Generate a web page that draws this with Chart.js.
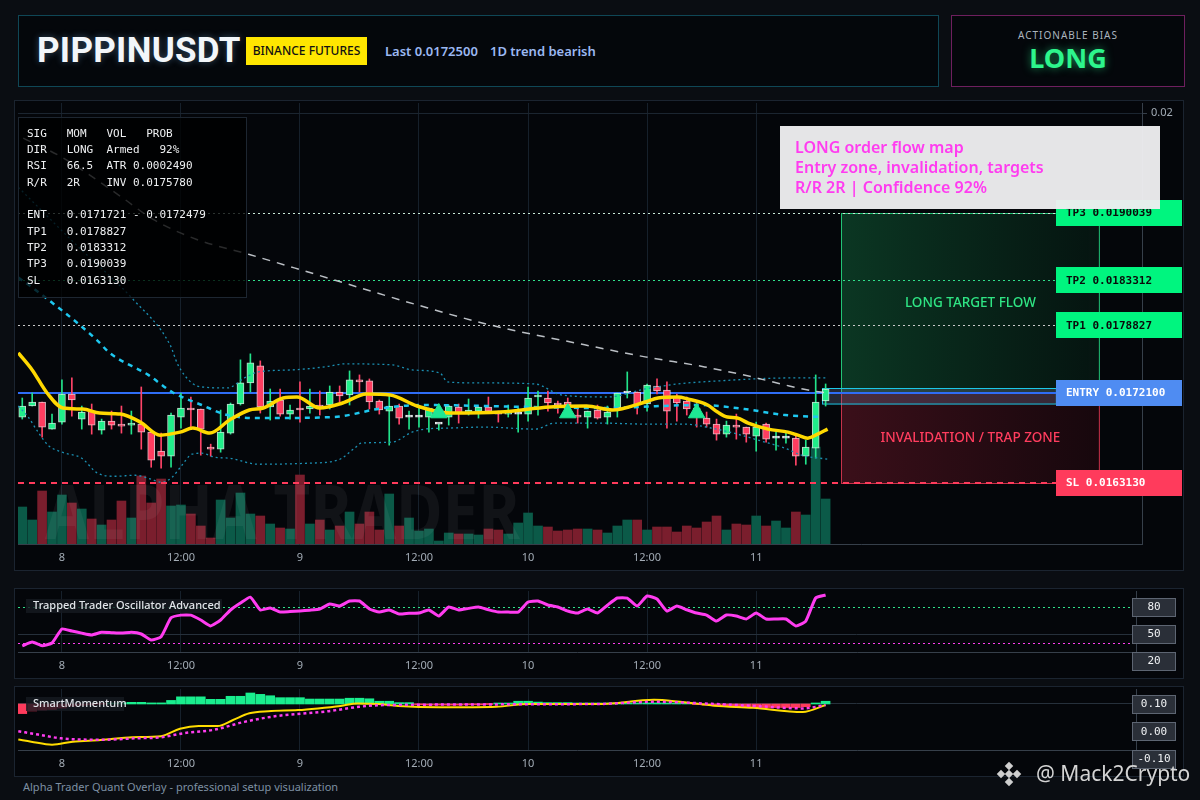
<!DOCTYPE html>
<html>
<head>
<meta charset="utf-8">
<script src="https://cdn.jsdelivr.net/npm/chart.js@4.4.1/dist/chart.umd.min.js"></script>
<style>
html, body { margin: 0; padding: 0; background: #0a0d12; }
#page { position: relative; width: 1200px; height: 800px; overflow: hidden; background: #0a0d12; font-family: "Noto Sans", sans-serif; }
.abs { position: absolute; box-sizing: border-box; }
#head { left: 18px; top: 15px; width: 921px; height: 72px; border: 1px solid #0f4756; background: #04070b; }
#sym { left: 37px; top: 29px; font: bold 35px/44px Roboto, sans-serif; letter-spacing: 0.3px; color: #f2f6fa; text-shadow: 0 0 7px rgba(140,200,255,0.35); white-space: nowrap; }
#badge { left: 246px; top: 37px; width: 121px; height: 28px; background: #ffe600; color: #111; font: 500 12px/28px "Noto Sans", sans-serif; text-align: center; }
.meta { top: 42px; font: 600 13px/18px "Noto Sans", sans-serif; color: #9bb8f2; white-space: nowrap; }
#bias { left: 951px; top: 15px; width: 234px; height: 72px; border: 1px solid #6e1f5e; background: #04070b; text-align: center; }
#biasT { left: 0; top: 12px; width: 100%; font: 10px/14px "Noto Sans", sans-serif; letter-spacing: 1px; color: #aab4be; }
#biasV { left: 0; top: 24px; width: 100%; font: bold 27px/36px "Noto Sans", sans-serif; color: #2df58c; text-shadow: 0 0 9px rgba(40,240,140,0.55); }
.panel { border: 1px solid #1b2430; background: #04060a; }
#foot { left: 23px; top: 779px; font: 11px/16px "Noto Sans", sans-serif; color: #7d90a3; white-space: nowrap; }
#wm { left: 1036px; top: 760px; font: 21px/26px "Noto Sans", sans-serif; color: #d4d4d4; white-space: nowrap; }
canvas { position: absolute; }
</style>
</head>
<body>
<div id="page">
  <div class="abs" id="head"></div>
  <div class="abs" id="sym">PIPPINUSDT</div>
  <div class="abs" id="badge">BINANCE FUTURES</div>
  <div class="abs meta" style="left:385px">Last 0.0172500</div>
  <div class="abs meta" style="left:490px">1D trend bearish</div>
  <div class="abs" id="bias"><div class="abs" id="biasT">ACTIONABLE BIAS</div><div class="abs" id="biasV">LONG</div></div>

  <div class="abs panel" style="left:14px;top:100px;width:1170px;height:471px"></div>
  <div class="abs panel" style="left:14px;top:588px;width:1170px;height:91px"></div>
  <div class="abs panel" style="left:14px;top:686px;width:1170px;height:91px"></div>
  <canvas id="main" width="1168" height="469" style="left:15px;top:101px"></canvas>
  <canvas id="osc" width="1168" height="89" style="left:15px;top:589px"></canvas>
  <canvas id="mom" width="1168" height="89" style="left:15px;top:687px"></canvas>

  <div class="abs" id="foot">Alpha Trader Quant Overlay - professional setup visualization</div>
  <svg class="abs" style="left:996px;top:761px" width="26" height="26" viewBox="0 0 26 26">
    <g fill="#cfcfcf"><rect x="10" y="2" width="6" height="6" transform="rotate(45 13 5)"/><rect x="10" y="18" width="6" height="6" transform="rotate(45 13 21)"/><rect x="2" y="10" width="6" height="6" transform="rotate(45 5 13)"/><rect x="18" y="10" width="6" height="6" transform="rotate(45 21 13)"/><rect x="10" y="10" width="6" height="6" transform="rotate(45 13 13)"/></g>
  </svg>
  <div class="abs" id="wm">@ Mack2Crypto</div>
</div>
<script>
// ---- time axis (candle index) ----
const tickIdx = [4, 16, 28, 40, 51, 63, 74];
const tickText = ['8', '12:00', '9', '12:00', '10', '12:00', '11'];

// ---- hourly candles ----
const open = [0.01697,0.01708,0.01712,0.01685,0.01692,0.01720,0.01695,0.01703,0.01684,0.01693,
  0.01689,0.01689,0.01690,0.01682,0.01663,0.01658,0.01697,0.01706,0.01705,0.01667,
  0.01665,0.01681,0.01710,0.01731,0.01748,0.01707,0.01714,0.01700,0.01705,0.01705,
  0.01709,0.01709,0.01722,0.01719,0.01734,0.01733,0.01713,0.01703,0.01708,0.01697,
  0.01697,0.01697,0.01690,0.01697,0.01707,0.01701,0.01703,0.01707,0.01703,0.01700,
  0.01700,0.01700,0.01717,0.01716,0.01711,0.01712,0.01699,0.01697,0.01704,0.01697,
  0.01706,0.01721,0.01722,0.01710,0.01728,0.01724,0.01717,0.01713,0.01706,0.01696,
  0.01690,0.01680,0.01689,0.01687,0.01678,0.01690,0.01676,0.01676,0.01676,0.01658,
  0.01666,0.01713];
const high = [0.01716,0.01721,0.01712,0.01700,0.01734,0.01736,0.01708,0.01710,0.01695,0.01703,
  0.01708,0.01703,0.01727,0.01682,0.01681,0.01701,0.01721,0.01717,0.01705,0.01670,
  0.01704,0.01711,0.01754,0.01760,0.01753,0.01725,0.01725,0.01709,0.01732,0.01725,
  0.01723,0.01728,0.01728,0.01743,0.01739,0.01735,0.01714,0.01719,0.01710,0.01703,
  0.01706,0.01706,0.01690,0.01709,0.01710,0.01715,0.01707,0.01717,0.01703,0.01709,
  0.01706,0.01727,0.01723,0.01723,0.01713,0.01716,0.01706,0.01703,0.01709,0.01708,
  0.01721,0.01742,0.01722,0.01730,0.01735,0.01732,0.01720,0.01717,0.01712,0.01702,
  0.01695,0.01693,0.01700,0.01687,0.01692,0.01691,0.01682,0.01681,0.01680,0.01674,
  0.01739,0.01730];
const low = [0.01695,0.01708,0.01677,0.01685,0.01690,0.01698,0.01685,0.01680,0.01680,0.01685,
  0.01681,0.01680,0.01665,0.01647,0.01646,0.01647,0.01686,0.01686,0.01659,0.01658,
  0.01662,0.01680,0.01709,0.01722,0.01701,0.01694,0.01698,0.01695,0.01692,0.01701,
  0.01699,0.01705,0.01712,0.01709,0.01722,0.01705,0.01700,0.01669,0.01690,0.01685,
  0.01687,0.01682,0.01684,0.01689,0.01691,0.01699,0.01696,0.01701,0.01692,0.01697,
  0.01682,0.01693,0.01699,0.01703,0.01701,0.01706,0.01691,0.01686,0.01695,0.01690,
  0.01697,0.01716,0.01700,0.01703,0.01720,0.01686,0.01693,0.01699,0.01687,0.01687,
  0.01674,0.01677,0.01675,0.01672,0.01663,0.01672,0.01664,0.01671,0.01649,0.01650,
  0.01656,0.01708];
const close = [0.01708,0.01712,0.01687,0.01691,0.01720,0.01714,0.01702,0.01689,0.01693,0.01689,
  0.01688,0.01691,0.01682,0.01654,0.01658,0.01699,0.01706,0.01704,0.01685,0.01665,
  0.01682,0.01710,0.01731,0.01751,0.01707,0.01713,0.01700,0.01704,0.01704,0.01708,
  0.01707,0.01722,0.01718,0.01734,0.01732,0.01712,0.01704,0.01708,0.01696,0.01697,
  0.01697,0.01706,0.01690,0.01708,0.01701,0.01704,0.01707,0.01703,0.01700,0.01702,
  0.01700,0.01716,0.01719,0.01711,0.01709,0.01709,0.01697,0.01703,0.01696,0.01702,
  0.01721,0.01721,0.01709,0.01729,0.01723,0.01703,0.01711,0.01705,0.01702,0.01690,
  0.01680,0.01689,0.01687,0.01680,0.01687,0.01675,0.01676,0.01676,0.01658,0.01667,
  0.01712,0.01725];
const volume = [3.7,2.4,5.3,3.2,4.9,4.1,3.5,2.5,1.9,2.4, 4.3,2.6,6.8,4.1,6.5,3.8,3.9,3.0,1.8,0.6,
  4.4,2.6,5.1,3.0,2.8,2.0,1.6,1.5,6.9,2.0, 2.4,1.4,1.8,3.2,2.0,3.2,1.4,5.0,1.8,2.6,
  1.3,1.5,0.3,1.1,1.0,1.0,0.9,1.5,1.4,1.0, 2.1,3.1,1.8,1.7,1.3,1.4,1.5,1.5,1.4,1.1,
  1.8,2.4,2.4,1.4,1.7,1.7,1.2,1.8,1.6,2.2, 2.8,1.4,2.0,1.9,2.8,1.8,2.3,1.6,3.2,2.9,
  9.7,4.5];

// ---- overlay lines [candle index, price] ----
const emaLine = [[-0.4,0.01761],[1,0.01744],[2.5,0.01721],[4.1,0.01706],[6.1,0.01705],[7.8,0.01701],[9.9,0.01700],
  [11.9,0.01692],[13.9,0.01679],[15.9,0.01682],[17.2,0.01686],[18.9,0.01681],[20.9,0.01694],[22.9,0.01704],
  [24.3,0.01706],[26.3,0.01716],[27.7,0.01717],[30,0.01706],[32.3,0.01711],[34.7,0.01720],[37.1,0.01719],
  [39.8,0.01708],[43.1,0.01701],[48.2,0.01702],[53.2,0.01707],[56.9,0.01708],[59.5,0.01704],[62.8,0.01712],
  [64.1,0.01716],[66.1,0.01717],[67.1,0.01715],[69.1,0.01709],[70.1,0.01702],[71.1,0.01697],[72.1,0.01696],
  [73.2,0.01691],[75.2,0.01685],[77.2,0.01682],[78.2,0.01679],[79.2,0.01676],[80.2,0.01680],[81.2,0.01685]];
const midBand = [[-0.4,0.01836],[1.3,0.01824],[7.5,0.01774],[8.8,0.01761],[12.7,0.01739],[15.1,0.01722],
  [18.1,0.01709],[20.7,0.01699],[23.9,0.01696],[31.3,0.01697],[36.4,0.01706],[40.1,0.01709],[51.5,0.01707],
  [58.2,0.01706],[68.3,0.01709],[72.8,0.01705],[76.9,0.01699],[80.7,0.01697]];
const upperBand = [[-0.4,0.01926],[5.3,0.01870],[11.2,0.01814],[14.9,0.01769],[15.7,0.01749],[17.1,0.01731],
  [18.1,0.01727],[20.7,0.01726],[22.4,0.01736],[23.8,0.01742],[27.2,0.01744],[30.5,0.01747],[32.5,0.01750],
  [37.3,0.01749],[39.3,0.01744],[42.1,0.01741],[42.9,0.01732],[46.6,0.01731],[51.7,0.01730],[54.4,0.01719],
  [59,0.01717],[62.8,0.01725],[66.1,0.01730],[70.1,0.01733],[77.6,0.01736],[81.2,0.01736]];
const lowerBand = [[-0.4,0.01708],[0.6,0.01697],[1.6,0.01682],[2.6,0.01669],[4,0.01662],[6,0.01656],
  [7.6,0.01641],[9.4,0.01638],[11.4,0.01639],[12.7,0.01636],[14.1,0.01632],[15.1,0.01637],[16.1,0.01649],
  [17.1,0.01660],[18.1,0.01661],[19.4,0.01657],[20.9,0.01656],[23.8,0.01650],[28.8,0.01651],[31.8,0.01654],
  [33.5,0.01666],[34.2,0.01671],[37.3,0.01672],[39.3,0.01682],[40.6,0.01685],[42.9,0.01686],[46.6,0.01687],
  [51.7,0.01685],[53.7,0.01691],[58.4,0.01691],[62.8,0.01690],[66.8,0.01690],[69.5,0.01686],[72.5,0.01679],
  [74.2,0.01674],[76.9,0.01666],[78.6,0.01659],[81.2,0.01655]];
const trendCurve = [[0.1,0.01975],[3.8,0.01957],[9.9,0.01917],[13.2,0.01894],[17.6,0.01874],[22.9,0.01859],
  [29,0.01841],[40.1,0.01808],[47.1,0.01789],[56.7,0.01769],[62.8,0.01757],[68.8,0.01747],[73.6,0.01737],
  [76.9,0.01729],[79.7,0.01723],[81.2,0.01721]];
const signalIdx = [42, 55, 68];
const signalPrice = [0.01701, 0.01701, 0.01701];

// ---- trade plan ----
const entry = 0.0172100, tp1 = 0.0178827, tp2 = 0.0183312, tp3 = 0.0190039, sl = 0.0163130;
const entryZone = [0.01710, 0.017255];
const infoRows = [
  'SIG   MOM   VOL   PROB',
  'DIR   LONG  Armed   92%',
  'RSI   66.5  ATR 0.0002490',
  'R/R   2R    INV 0.0175780',
  '',
  'ENT   0.0171721 - 0.0172479',
  'TP1   0.0178827',
  'TP2   0.0183312',
  'TP3   0.0190039',
  'SL    0.0163130'
];
const calloutRows = ['LONG order flow map', 'Entry zone, invalidation, targets', 'R/R 2R | Confidence 92%'];

// ---- oscillator panels ----
const oscValues = [36.7,41,37,40,55.6,53.3,51,49,52,51.5, 51,52,50,43.3,47,68,71,71,65.6,59,
  65.6,76.7,84.4,91,76.7,79,74.4,75,75.6,76.5, 77.8,83.3,81.1,86.7,86.7,77.8,74.4,76.7,72.2,73,
  73.3,76.7,70,80,76.7,78.5,80,77,74.4,74.4, 74.4,85.6,86.7,82.2,80,75.6,73.3,77.8,73.3,82,
  90,90,81.1,92.2,88.9,75.6,81.1,77,73.3,71.1, 64.4,71.1,70,66.7,73.3,66.7,66.7,66.7,58.9,64.4,
  90,93.3];
const oscLevels = [80, 40];
const oscLabels = [80, 50, 20];
const momHist = [-0.035,-0.025,-0.022,-0.02,-0.015,-0.008,-0.005,-0.003,-0.001,0.001,
  0.004,0.006,0.006,0.004,0.004,0.013,0.026,0.026,0.026,0.017, 0.017,0.028,0.028,0.04,0.035,0.03,0.023,0.023,0.023,0.018,
  0.018,0.018,0.018,0.021,0.021,0.019,0.01,0.01,0.005,0.005, -0.003,-0.004,-0.004,-0.004,-0.004,-0.003,-0.003,-0.002,0.002,0.002,
  0.01,0.01,0.007,0.005,0.005,0.005,0.002,0.002,0.002,0.002, 0.003,0.003,0.003,0.004,0.004,0.003,0.003,0.002,-0.002,-0.004,
  -0.007,-0.007,-0.01,-0.013,-0.013,-0.013,-0.013,-0.013,-0.013,-0.01, 0.002,0.01];
const momFast = [[-0.4,-0.029],[0.9,-0.037],[3,-0.048],[5.1,-0.037],[7.9,-0.031],[11.1,-0.021],[14,-0.017],
  [15.9,0.010],[17.8,0.020],[19.7,0.020],[21.2,0.041],[22.9,0.066],[24.8,0.074],[27.8,0.078],[29.8,0.084],
  [32.1,0.093],[33.8,0.102],[35.9,0.100],[37.9,0.093],[42.1,0.088],[47.8,0.090],[51,0.100],[58.2,0.100],
  [63.7,0.115],[66.3,0.108],[69.8,0.094],[73.7,0.086],[78.7,0.071],[81,0.096]];
const momSlow = [[-0.4,0.001],[1.6,-0.011],[3.9,-0.025],[8.1,-0.030],[11.3,-0.025],[14,-0.021],[16.3,-0.006],
  [19.3,0.006],[22.4,0.035],[25.6,0.056],[28.6,0.066],[30.9,0.074],[34,0.090],[36.4,0.096],[58,0.100],
  [63.7,0.108],[69.8,0.100],[73.7,0.093],[78.7,0.084],[81,0.096]];
const momBase = 0.10;
const momLabels = [0.10, 0.00, -0.10];

// ---- layout constants ----
const X_MIN = -0.43, X_MAX_MAIN = 112.9, X_MAX_SUB = 112.3;
const ZONE_FROM = 82.6, ZONE_TO = 108.6;
const UP = '#20ee8a', DN = '#ff3d60';
const FONT = '"Noto Sans", sans-serif', MONO = '"DejaVu Sans Mono", monospace';

Chart.defaults.animation = false;
Chart.defaults.font.family = FONT;
Chart.defaults.plugins.legend.display = false;
Chart.defaults.plugins.tooltip.enabled = false;

function xAxis(max) {
  return {
    type: 'linear', min: X_MIN, max: max, offset: false,
    afterBuildTicks: s => { s.ticks = tickIdx.map(v => ({ value: v })); },
    afterFit: s => { s.height = 26; s.paddingLeft = 0; s.paddingRight = 0; },
    grid: { color: '#16202b', drawTicks: false, offset: false },
    border: { color: '#363f4a' },
    ticks: { autoSkip: false, maxRotation: 0, padding: 7, color: '#a3acb6', font: { size: 11 },
      callback: (v, k) => tickText[k] }
  };
}
const pts = arr => arr.map(p => ({ x: p[0], y: p[1] }));
function line(data, color, width, dash, order) {
  return { type: 'line', data: pts(data), borderColor: color, borderWidth: width, borderDash: dash,
    pointRadius: 0, cubicInterpolationMode: 'monotone', fill: false, order: order };
}

// ---- main price chart ----
const mainOverlay = {
  id: 'mainOverlay',
  beforeDatasetsDraw(chart) {
    const { ctx, chartArea: a, scales: { x, y } } = chart;
    const x0 = x.getPixelForValue(ZONE_FROM), x1 = x.getPixelForValue(ZONE_TO);
    const yT = y.getPixelForValue(tp3), yE = y.getPixelForValue(entry), yS = y.getPixelForValue(sl);
    const labelLeft = a.right - 86;
    ctx.save();
    let g = ctx.createLinearGradient(x0, 0, x1, 0);
    g.addColorStop(0, 'rgba(18,96,56,0.55)'); g.addColorStop(1, 'rgba(8,36,24,0.5)');
    ctx.fillStyle = g; ctx.fillRect(x0, yT, x1 - x0, yE - yT);
    g = ctx.createLinearGradient(x0, 0, x1, 0);
    g.addColorStop(0, 'rgba(96,22,36,0.6)'); g.addColorStop(1, 'rgba(40,10,16,0.55)');
    ctx.fillStyle = g; ctx.fillRect(x0, yE, x1 - x0, yS - yE);
    ctx.lineWidth = 1;
    ctx.strokeStyle = '#22c476'; ctx.strokeRect(Math.round(x0) + 0.5, Math.round(yT) + 0.5, x1 - x0, yE - yT);
    ctx.strokeStyle = '#c8324a'; ctx.strokeRect(Math.round(x0) + 0.5, Math.round(yE) + 0.5, x1 - x0, yS - yE);
    ctx.font = '500 13.5px ' + FONT; ctx.textAlign = 'center'; ctx.textBaseline = 'middle';
    ctx.fillStyle = '#2fe584'; ctx.fillText('LONG TARGET FLOW', (x0 + x1) / 2, (yT + yE) / 2);
    ctx.fillStyle = '#ff3d5e'; ctx.fillText('INVALIDATION / TRAP ZONE', (x0 + x1) / 2, (yE + yS) / 2);
    // entry zone
    const ez0 = x.getPixelForValue(open.length - 1.35);
    const ezT = y.getPixelForValue(entryZone[1]), ezB = y.getPixelForValue(entryZone[0]);
    ctx.fillStyle = 'rgba(120,125,160,0.28)'; ctx.fillRect(ez0, ezT, labelLeft - ez0, ezB - ezT);
    ctx.strokeStyle = '#1cc8e8'; ctx.strokeRect(Math.round(ez0) + 0.5, Math.round(ezT) + 0.5, labelLeft - ez0, ezB - ezT);
    // target levels
    const dotted = (p, color) => {
      const yy = Math.round(y.getPixelForValue(p)) + 0.5;
      ctx.strokeStyle = color; ctx.lineWidth = 1; ctx.setLineDash([2, 3]);
      ctx.beginPath(); ctx.moveTo(a.left, yy); ctx.lineTo(labelLeft, yy); ctx.stroke();
    };
    dotted(tp3, '#c9e8d8'); dotted(tp2, '#2fe08a'); dotted(tp1, '#c9c9c9');
    ctx.setLineDash([]);
    ctx.strokeStyle = '#2f6df6'; ctx.lineWidth = 2;
    ctx.beginPath(); ctx.moveTo(a.left, yE); ctx.lineTo(labelLeft, yE); ctx.stroke();
    ctx.restore();
  },
  afterDatasetsDraw(chart) {
    const { ctx, chartArea: a, scales: { y } } = chart;
    const labelLeft = a.right - 86;
    ctx.save();
    // stop line
    const yS = y.getPixelForValue(sl);
    ctx.strokeStyle = '#ff3b5c'; ctx.lineWidth = 2; ctx.setLineDash([6, 5]);
    ctx.beginPath(); ctx.moveTo(a.left, yS); ctx.lineTo(labelLeft, yS); ctx.stroke();
    ctx.setLineDash([]);
    // watermark
    ctx.font = 'bold 66px ' + FONT;
    const w = ctx.measureText('ALPHA TRADER').width;
    ctx.translate(a.left + 27, a.bottom - 5);
    ctx.scale(475 / w, 1.15);
    ctx.fillStyle = 'rgba(255,255,255,0.055)'; ctx.textAlign = 'left'; ctx.textBaseline = 'alphabetic';
    ctx.fillText('ALPHA TRADER', 0, 0);
    ctx.setTransform(1, 0, 0, 1, 0, 0);
    // price labels
    const tag = (p, text, bg, fg) => {
      const yy = y.getPixelForValue(p);
      ctx.fillStyle = bg; ctx.fillRect(labelLeft, Math.round(yy - 13), 126, 26);
      ctx.fillStyle = fg; ctx.font = 'bold 11px ' + MONO; ctx.textAlign = 'left'; ctx.textBaseline = 'middle';
      ctx.fillText(text, labelLeft + 10, yy + 0.5);
    };
    tag(tp3, 'TP3 ' + tp3.toFixed(7), '#00f57f', '#0a0a0a');
    tag(tp2, 'TP2 ' + tp2.toFixed(7), '#00f57f', '#0a0a0a');
    tag(tp1, 'TP1 ' + tp1.toFixed(7), '#00f57f', '#0a0a0a');
    tag(entry, 'ENTRY ' + entry.toFixed(7), '#4f8cf2', '#ffffff');
    tag(sl, 'SL ' + sl.toFixed(7), '#ff3b5c', '#ffffff');
    // info panel
    const px = a.left, py = a.top + 14;
    ctx.fillStyle = 'rgba(0,0,0,0.78)'; ctx.fillRect(px, py, 228, 180);
    ctx.strokeStyle = '#1d2631'; ctx.lineWidth = 1; ctx.strokeRect(px + 0.5, py + 0.5, 228, 180);
    ctx.fillStyle = '#eef0f2'; ctx.font = '11px ' + MONO; ctx.textBaseline = 'middle';
    infoRows.forEach((r, k) => ctx.fillText(r, px + 9, py + 17 + k * 16.3));
    // callout
    const cx = a.left + 762, cy = a.top + 23;
    ctx.fillStyle = 'rgba(238,238,240,0.96)'; ctx.fillRect(cx, cy, 380, 83);
    ctx.fillStyle = '#ff3cf0'; ctx.font = '600 16px ' + FONT;
    calloutRows.forEach((r, k) => ctx.fillText(r, cx + 15, cy + 22 + k * 20.3));
    ctx.restore();
  }
};

new Chart(document.getElementById('main'), {
  type: 'line',
  data: {
    datasets: [
      { type: 'bar', yAxisID: 'vol', grouped: false, order: 10, barThickness: 9,
        data: volume.map((v, i) => ({ x: i, y: v })),
        backgroundColor: volume.map((v, i) => close[i] >= open[i] ? '#0b5a48' : '#7a1e2d') },
      { type: 'bar', grouped: false, order: 8, barThickness: 1,
        data: low.map((l, i) => ({ x: i, y: [l, high[i]] })),
        backgroundColor: open.map((o, i) => close[i] >= o ? '#22e38a' : '#ff4468') },
      { type: 'bar', grouped: false, order: 7, barThickness: 7, minBarLength: 2, borderWidth: 1, borderSkipped: false,
        data: open.map((o, i) => ({ x: i, y: [o, close[i]] })),
        backgroundColor: open.map((o, i) => close[i] > o ? UP : close[i] < o ? DN : '#e8ecef'),
        borderColor: open.map((o, i) => close[i] > o ? 'rgba(225,255,238,0.85)' : close[i] < o ? 'rgba(255,220,228,0.85)' : '#e8ecef') },
      line(lowerBand, '#1b8fb2', 1.3, [2, 3], 6),
      line(upperBand, '#1b8fb2', 1.3, [2, 3], 6),
      line(midBand, '#1ec8f0', 2.5, [5, 5], 5),
      line(trendCurve, 'rgba(220,224,230,0.85)', 1.5, [8, 7], 4),
      line(emaLine, '#ffd800', 3.5, [], 3),
      { type: 'line', showLine: false, order: 1, pointStyle: 'triangle', pointRadius: 9.5,
        pointBackgroundColor: '#1ee894', pointBorderColor: '#1ee894',
        data: signalIdx.map((v, k) => ({ x: v, y: signalPrice[k] })) }
    ]
  },
  options: {
    responsive: false,
    layout: { autoPadding: false, padding: { left: 3, top: 2, right: 0, bottom: 0 } },
    scales: {
      x: xAxis(X_MAX_MAIN),
      y: { position: 'right', min: 0.015705, max: 0.0201,
        afterBuildTicks: s => { s.ticks = [{ value: 0.02 }]; },
        afterFit: s => { s.width = 41; s.paddingTop = 0; s.paddingBottom = 0; },
        grid: { color: '#1b2530', tickLength: 5, tickColor: '#363f4a' },
        border: { color: '#363f4a' },
        ticks: { padding: 4, color: '#a3acb6', font: { size: 11 }, callback: v => v.toFixed(2) } },
      vol: { display: false, min: 0, max: 44.1 }
    }
  },
  plugins: [mainOverlay]
});

// ---- sub panels ----
function subOverlay(title, titleW, labels, fmt, guides) {
  return {
    id: 'sub' + title.length,
    beforeDatasetsDraw(chart) {
      const { ctx, chartArea: a, scales: { y } } = chart;
      ctx.save();
      guides.forEach(gd => {
        const yy = Math.round(y.getPixelForValue(gd[0])) + 0.5;
        ctx.strokeStyle = gd[1]; ctx.lineWidth = 1; ctx.setLineDash([2, 3]);
        ctx.beginPath(); ctx.moveTo(a.left, yy); ctx.lineTo(a.right - 4, yy); ctx.stroke();
      });
      ctx.restore();
    },
    afterDatasetsDraw(chart) {
      const { ctx, chartArea: a, scales: { y } } = chart;
      ctx.save();
      ctx.fillStyle = 'rgba(22,26,33,0.82)'; ctx.fillRect(a.left + 8, a.top + 8, titleW, 14);
      ctx.fillStyle = '#e0e4e8'; ctx.font = '500 11px ' + FONT; ctx.textBaseline = 'middle'; ctx.textAlign = 'left';
      ctx.fillText(title, a.left + 15, a.top + 15);
      labels.forEach(v => {
        const yy = y.getPixelForValue(v);
        ctx.fillStyle = '#2a2f38'; ctx.fillRect(a.right - 4, Math.round(yy - 9), 44, 19);
        ctx.strokeStyle = '#5d6572'; ctx.strokeRect(a.right - 3.5, Math.round(yy - 9) + 0.5, 43, 18);
        ctx.fillStyle = '#f0f2f4'; ctx.font = '11px ' + MONO; ctx.textAlign = 'center';
        ctx.fillText(fmt(v), a.right + 18, yy + 0.5);
      });
      ctx.restore();
    }
  };
}
function subY(min, max, grid) {
  return { position: 'right', min: min, max: max,
    afterBuildTicks: s => { s.ticks = [{ value: grid }]; },
    afterFit: s => { s.width = 47; s.paddingTop = 0; s.paddingBottom = 0; },
    grid: { color: '#26303b', drawTicks: false }, border: { color: '#363f4a' },
    ticks: { display: false } };
}
const subOpts = (yScale) => ({
  responsive: false,
  layout: { autoPadding: false, padding: { left: 3, top: 2, right: 0, bottom: 0 } },
  scales: { x: xAxis(X_MAX_SUB), y: yScale }
});

new Chart(document.getElementById('osc'), {
  type: 'line',
  data: { datasets: [{ data: oscValues.map((v, i) => ({ x: i, y: v })), borderColor: '#ff3cf0', borderWidth: 3,
    pointRadius: 0, tension: 0.15 }] },
  options: subOpts(subY(30, 97.8, 50)),
  plugins: [subOverlay('Trapped Trader Oscillator Advanced', 196, oscLabels, v => String(v),
    [[oscLevels[0], '#2fe08a'], [oscLevels[1], '#ff3cf0']])]
});

new Chart(document.getElementById('mom'), {
  type: 'line',
  data: { datasets: [
    { type: 'bar', grouped: false, order: 5, barThickness: 9, minBarLength: 1,
      data: momHist.map((h, i) => ({ x: i, y: [momBase, momBase + h] })),
      backgroundColor: momHist.map(h => h >= 0 ? '#19ee8e' : '#ff3b5c') },
    line(momFast, '#ffdc00', 2, [], 2),
    line(momSlow, '#ff3cf0', 2.5, [3, 3], 1)
  ] },
  options: subOpts(subY(-0.0673, 0.1545, 0.1)),
  plugins: [subOverlay('SmartMomentum', 98, momLabels, v => v.toFixed(2), [])]
});
</script>
</body>
</html>
